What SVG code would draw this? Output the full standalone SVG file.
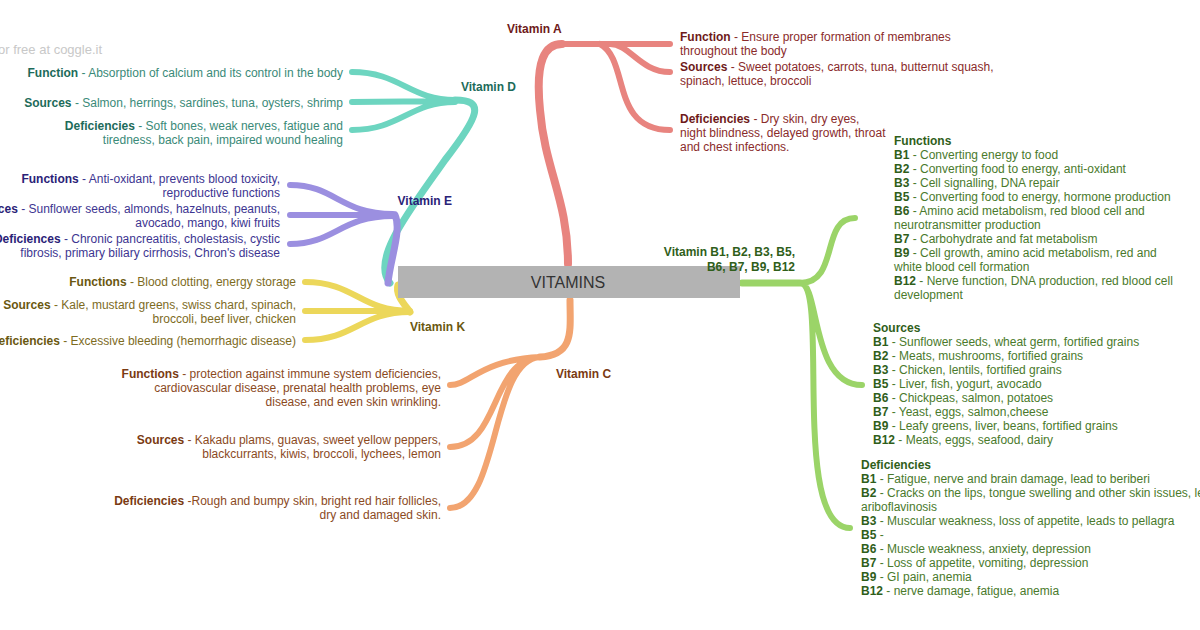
<svg xmlns="http://www.w3.org/2000/svg" width="1200" height="630" viewBox="0 0 1200 630">
<style>
text{font-family:"Liberation Sans",Arial,sans-serif;font-size:12px}
.b{font-weight:bold}
.br{fill:none;stroke-linecap:round}
.d{fill:#3a8a78}.dl{fill:#1d6b5a}
.e{fill:#3d3591}.el{fill:#2a2277}
.k{fill:#7d6b1e}.kl{fill:#6a5810}
.c{fill:#8b4a1e}.cl{fill:#7a3a12}
.a{fill:#8a2b2b}.al{fill:#6e1a1a}
.g{fill:#4a7a2c}.gl{fill:#2f5e1a}
</style>
<rect width="1200" height="630" fill="#fff"/>
<text x="-2" y="54" fill="#c8c8c8" style="font-size:13px">or free at coggle.it</text>
<g id="connectors">
<g stroke="#e8847f" class="br">
<path d="M568 264 C568 200 545 170 540 110 C535 60 545 44 562 44" stroke-width="8"/>
<path d="M562 44 L670 44 M610 44 C630 44 640 72 670 72 M600 44 C630 60 610 130 670 130" stroke-width="6"/>
</g>
<g stroke="#6dd5c0" class="br">
<path d="M390 283 C370 260 410 210 445 160 C480 115 485 100 455 100" stroke-width="7"/>
<path d="M455 100 C410 100 400 72 352 72 M455 101 L352 102 M455 102 C410 102 400 130 352 130" stroke-width="6"/>
</g>
<g stroke="#9b8fe0" class="br">
<path d="M388 283 C390 260 402 230 395 215" stroke-width="7"/>
<path d="M393 214 C340 214 335 185 290 185 M393 215 L290 215 M393 216 C340 216 335 244 290 244" stroke-width="6"/>
</g>
<g stroke="#ecd75a" class="br">
<path d="M398 285 C395 295 405 305 410 312" stroke-width="7"/>
<path d="M410 311 C360 311 355 282 305 282 M410 311 L305 311 M410 312 C360 312 355 340 305 340" stroke-width="6"/>
</g>
<g stroke="#f2a470" class="br">
<path d="M570 300 C570 330 575 355 540 357" stroke-width="7"/>
<path d="M540 357 C480 360 470 385 450 385 M540 357 C490 360 500 447 450 447 M540 357 C490 360 500 508 450 508" stroke-width="6"/>
</g>
<g stroke="#9bd468" class="br">
<path d="M742 283 L800 283" stroke-width="7"/>
<path d="M800 283 C840 283 820 218 855 218 M800 283 C820 283 810 385 862 385 M800 283 C830 283 790 528 850 528" stroke-width="6"/>
</g>
</g>
<g id="center"><rect x="398" y="266" width="342" height="32" fill="#b3b3b3"/><text x="568" y="288" text-anchor="middle" fill="#333" style="font-size:16px">VITAMINS</text></g>
<g id="vitA">
<text x="507" y="33" class="b al">Vitamin A</text>
<text x="680" y="41" class="a"><tspan class="b al">Function</tspan> - Ensure proper formation of membranes</text>
<text x="680" y="55" class="a">throughout the body</text>
<text x="680" y="71" class="a"><tspan class="b al">Sources</tspan> - Sweet potatoes, carrots, tuna, butternut squash,</text>
<text x="680" y="85" class="a">spinach, lettuce, broccoli</text>
<text x="680" y="123" class="a"><tspan class="b al">Deficiencies</tspan> - Dry skin, dry eyes,</text>
<text x="680" y="137" class="a">night blindness, delayed growth, throat</text>
<text x="680" y="151" class="a">and chest infections.</text>
</g>
<g id="vitD" text-anchor="end">
<text x="516" y="91" class="b dl">Vitamin D</text>
<text x="343" y="77" class="d"><tspan class="b dl">Function</tspan> - Absorption of calcium and its control in the body</text>
<text x="343" y="107" class="d"><tspan class="b dl">Sources</tspan> - Salmon, herrings, sardines, tuna, oysters, shrimp</text>
<text x="343" y="130" class="d"><tspan class="b dl">Deficiencies</tspan> - Soft bones, weak nerves, fatigue and</text>
<text x="343" y="144" class="d">tiredness, back pain, impaired wound healing</text>
</g>
<g id="vitE" text-anchor="end">
<text x="452" y="205" class="b el">Vitamin E</text>
<text x="280" y="183" class="e"><tspan class="b el">Functions</tspan> - Anti-oxidant, prevents blood toxicity,</text>
<text x="280" y="197" class="e">reproductive functions</text>
<text x="280" y="213" class="e"><tspan class="b el">Sources</tspan> - Sunflower seeds, almonds, hazelnuts, peanuts,</text>
<text x="280" y="227" class="e">avocado, mango, kiwi fruits</text>
<text x="280" y="243" class="e"><tspan class="b el">Deficiences</tspan> - Chronic pancreatitis, cholestasis, cystic</text>
<text x="280" y="257" class="e">fibrosis, primary biliary cirrhosis, Chron's disease</text>
</g>
<g id="vitK">
<text x="410" y="331" class="b kl">Vitamin K</text>
<g text-anchor="end">
<text x="296" y="286" class="k"><tspan class="b kl">Functions</tspan> - Blood clotting, energy storage</text>
<text x="296" y="309" class="k"><tspan class="b kl">Sources</tspan> - Kale, mustard greens, swiss chard, spinach,</text>
<text x="296" y="323" class="k">broccoli, beef liver, chicken</text>
<text x="296" y="345" class="k"><tspan class="b kl">Deficiencies</tspan> - Excessive bleeding (hemorrhagic disease)</text>
</g>
</g>
<g id="vitC">
<text x="556" y="378" class="b cl">Vitamin C</text>
<g text-anchor="end">
<text x="441" y="378" class="c"><tspan class="b cl">Functions</tspan> - protection against immune system deficiencies,</text>
<text x="441" y="392" class="c">cardiovascular disease, prenatal health problems, eye</text>
<text x="441" y="406" class="c">disease, and even skin wrinkling.</text>
<text x="441" y="444" class="c"><tspan class="b cl">Sources</tspan> - Kakadu plams, guavas, sweet yellow peppers,</text>
<text x="441" y="458" class="c">blackcurrants, kiwis, broccoli, lychees, lemon</text>
<text x="441" y="505" class="c"><tspan class="b cl">Deficiencies</tspan> -Rough and bumpy skin, bright red hair follicles,</text>
<text x="441" y="519" class="c">dry and damaged skin.</text>
</g>
</g>
<g id="vitB">
<text x="795" y="256" text-anchor="end" class="b gl">Vitamin B1, B2, B3, B5,</text>
<text x="795" y="271" text-anchor="end" class="b gl">B6, B7, B9, B12</text>
<g class="g">
<text x="894" y="145" class="b gl">Functions</text>
<text x="894" y="159"><tspan class="b gl">B1</tspan> - Converting energy to food</text>
<text x="894" y="173"><tspan class="b gl">B2</tspan> - Converting food to energy, anti-oxidant</text>
<text x="894" y="187"><tspan class="b gl">B3</tspan> - Cell signalling, DNA repair</text>
<text x="894" y="201"><tspan class="b gl">B5</tspan> - Converting food to energy, hormone production</text>
<text x="894" y="215"><tspan class="b gl">B6</tspan> - Amino acid metabolism, red blood cell and</text>
<text x="894" y="229">neurotransmitter production</text>
<text x="894" y="243"><tspan class="b gl">B7</tspan> - Carbohydrate and fat metabolism</text>
<text x="894" y="257"><tspan class="b gl">B9</tspan> - Cell growth, amino acid metabolism, red and</text>
<text x="894" y="271">white blood cell formation</text>
<text x="894" y="285"><tspan class="b gl">B12</tspan> - Nerve function, DNA production, red blood cell</text>
<text x="894" y="299">development</text>
<text x="873" y="332" class="b gl">Sources</text>
<text x="873" y="346"><tspan class="b gl">B1</tspan> - Sunflower seeds, wheat germ, fortified grains</text>
<text x="873" y="360"><tspan class="b gl">B2</tspan> - Meats, mushrooms, fortified grains</text>
<text x="873" y="374"><tspan class="b gl">B3</tspan> - Chicken, lentils, fortified grains</text>
<text x="873" y="388"><tspan class="b gl">B5</tspan> - Liver, fish, yogurt, avocado</text>
<text x="873" y="402"><tspan class="b gl">B6</tspan> - Chickpeas, salmon, potatoes</text>
<text x="873" y="416"><tspan class="b gl">B7</tspan> - Yeast, eggs, salmon,cheese</text>
<text x="873" y="430"><tspan class="b gl">B9</tspan> - Leafy greens, liver, beans, fortified grains</text>
<text x="873" y="444"><tspan class="b gl">B12</tspan> - Meats, eggs, seafood, dairy</text>
<text x="861" y="469" class="b gl">Deficiencies</text>
<text x="861" y="483"><tspan class="b gl">B1</tspan> - Fatigue, nerve and brain damage, lead to beriberi</text>
<text x="861" y="497"><tspan class="b gl">B2</tspan> - Cracks on the lips, tongue swelling and other skin issues, leads to</text>
<text x="861" y="511">ariboflavinosis</text>
<text x="861" y="525"><tspan class="b gl">B3</tspan> - Muscular weakness, loss of appetite, leads to pellagra</text>
<text x="861" y="539"><tspan class="b gl">B5</tspan> -</text>
<text x="861" y="553"><tspan class="b gl">B6</tspan> - Muscle weakness, anxiety, depression</text>
<text x="861" y="567"><tspan class="b gl">B7</tspan> - Loss of appetite, vomiting, depression</text>
<text x="861" y="581"><tspan class="b gl">B9</tspan> - GI pain, anemia</text>
<text x="861" y="595"><tspan class="b gl">B12</tspan> - nerve damage, fatigue, anemia</text>
</g>
</g>
</svg>
